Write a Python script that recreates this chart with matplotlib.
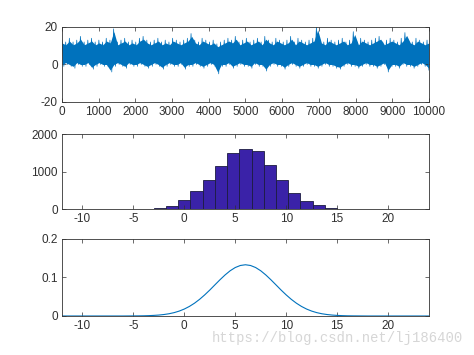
import matplotlib.pyplot as plt
import numpy as np
from matplotlib.ticker import MultipleLocator

plt.rcParams['font.family'] = ['Liberation Sans', 'DejaVu Sans']
plt.rcParams['axes.unicode_minus'] = False

# top trace: max / min of each block of 100 samples
sig_hi = [13, 12, 14, 12, 13, 15, 12, 13, 14, 12,
          13, 12, 14, 13, 19, 12, 13, 14, 12, 13,
          12, 14, 15, 13, 12, 13, 14, 12, 13, 12,
          14, 13, 12, 13, 14, 16.5, 13, 12, 14, 13,
          12, 13, 11, 12, 13, 14, 13, 15, 12, 13,
          14, 12, 13, 14, 12, 15, 13, 12, 14, 13,
          12, 13, 15, 12, 14, 13, 12, 13, 14, 20,
          13, 12, 14, 13, 12, 13, 14, 12, 13, 17.5,
          12, 14, 13, 12, 13, 14, 15, 12, 13, 14,
          13, 12, 14, 17, 13, 12, 14, 13, 12, 13]
sig_lo = [-1, 0, -1, -2, 0, -1, -1, 0, -2.5, -1,
          0, -1, -1, -4, -1, 0, -1, -2, 0, -1,
          -1, 0, -1, -2, -1, 0, -1, -2.5, -1, 0,
          -1, -1, 0, -2.5, -1, -1, 0, -1, -2, -1,
          0, -1, -5, -1, -1, 0, -2, -1, 0, -1,
          -1, -2, 0, -1, -1, -3.5, -1, 0, -1, -1,
          -2.5, -1, 0, -1, -2, -1, 0, -1, -1, -2,
          -1, 0, -1, -1, -2, -2.5, -1, 0, -1, -1,
          -2, -1, 0, -1, -1, -2, -1, 0, -4, -1,
          -1, -2, 0, -1, -1, -2, -1, 0, -1, -3]

# histogram bins (width 1.2) and counts
hist_left = [-5.4, -4.2, -3.0, -1.8, -0.6, 0.6, 1.8, 3.0, 4.2, 5.4,
             6.6, 7.8, 9.0, 10.2, 11.4, 12.6, 13.8, 15.0, 16.2, 17.4]
hist_count = [1, 5, 27, 97, 239, 478, 779, 1150, 1487, 1610,
              1549, 1177, 788, 425, 221, 106, 35, 9, 2, 1]

# density curve, x from -12 to 24 in steps of 0.5
pdf_x = np.arange(-12, 24.01, 0.5)
pdf_left = [0] * 13 + [.0001, .0002, .0003, .0005, .0009, .0015, .0024, .0038,
                       .0058, .0087, .0127, .0180, .0248, .0332, .0432, .0547,
                       .0673, .0807, .0940, .1065, .1174, .1258, .1311]
pdf_y = pdf_left + [.1330] + pdf_left[::-1]

blue = '#0072BD'
txt = '#303030'

fig = plt.figure(figsize=(4.74, 3.55), dpi=100)
ax1 = fig.add_axes([0.1308, 0.7127, 0.774, 0.2113])
ax2 = fig.add_axes([0.1308, 0.4104, 0.774, 0.2120])
ax3 = fig.add_axes([0.1308, 0.1099, 0.774, 0.2170])

# dense noise band: solid core inside the block envelope, zigzag through max/min
bx = np.linspace(0, 10000, len(sig_hi))
ax1.fill_between(bx, np.array(sig_lo) + 1, np.array(sig_hi) - 1.5,
                 color=blue, linewidth=0)
zz = []
for h, l in zip(sig_hi, sig_lo):
    zz += [h, l]
zx = np.linspace(0, 10000, len(zz))
ax1.plot(zx, zz, color=blue, linewidth=0.5)
ax1.set_xlim(0, 10000)
ax1.set_ylim(-20, 20)
ax1.xaxis.set_major_locator(MultipleLocator(1000))
ax1.yaxis.set_major_locator(MultipleLocator(20))

ax2.bar(hist_left, hist_count, width=1.2, align='edge', color='#3A22A8',
        edgecolor='#1c1c40', linewidth=0.6)
ax2.set_xlim(-12, 24)
ax2.set_ylim(0, 2000)
ax2.yaxis.set_major_locator(MultipleLocator(1000))

ax3.plot(pdf_x, pdf_y, color=blue, linewidth=0.8)
ax3.set_xlim(-12, 24)
ax3.set_ylim(0, 0.2)
ax3.yaxis.set_major_locator(MultipleLocator(0.1))

for ax in (ax2, ax3):
    ax.set_xticks([-10, -5, 0, 5, 10, 15, 20])

for ax in (ax1, ax2, ax3):
    ax.tick_params(direction='in', length=3, width=0.5, top=True, right=True,
                   labelsize=8.5, colors=txt, pad=3)
    for s in ax.spines.values():
        s.set_linewidth(0.6)
        s.set_color('#333333')

ax3.yaxis.set_major_formatter(lambda v, p: '0' if v == 0 else f'{v:g}')

fig.text(0.977, 0.048, 'https://blog.csdn.net/lj186400', ha='right',
         va='center', fontsize=10, family='Liberation Mono', color='#d6d6d6')

plt.savefig('out.png', dpi=100)
